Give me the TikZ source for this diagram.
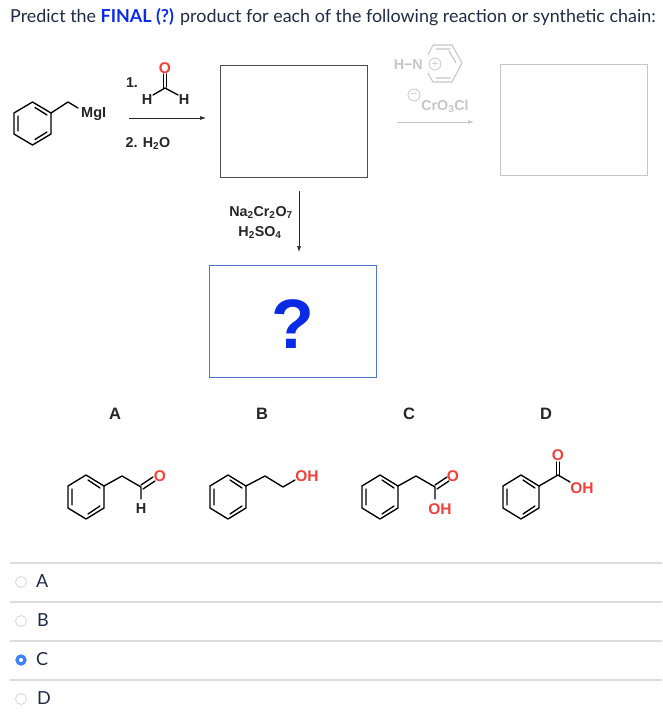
\documentclass[tikz,border=0pt]{standalone}
\usepackage{fontspec}
\setmainfont{Lato}
\newfontfamily\chem{Liberation Sans}
\usetikzlibrary{arrows.meta}
\definecolor{oxy}{HTML}{F2403A}
\definecolor{qblue}{HTML}{0A2BE6}
\definecolor{frameblue}{HTML}{4F74D9}
\definecolor{faint}{HTML}{C6C6C6}
\definecolor{rule}{HTML}{DCDCDC}
\definecolor{ink}{HTML}{1F2A44}
\definecolor{radio}{HTML}{3B82F6}
\tikzset{
  bond/.style={line width=1.35pt,line join=round,line cap=round},
  lab/.style={font=\chem\bfseries\fontsize{14.3}{16}\selectfont,inner sep=0pt,text=black!85,yshift=-1.5pt},
  olab/.style={lab,text=oxy,font=\chem\bfseries\fontsize{15.5}{17}\selectfont},
  hlab/.style={lab,font=\chem\bfseries\fontsize{14.5}{16}\selectfont},
  choice/.style={lab,font=\chem\bfseries\fontsize{16.5}{18}\selectfont},
  rxn/.style={line width=0.7pt,black!85,-{Latex[length=6pt,width=4pt]}},
  rxnf/.style={line width=0.7pt,faint,-{Latex[length=6pt,width=4pt]}},
  boxd/.style={draw=black!70,line width=0.9pt,fill=none},
  charge/.style={circle,draw=faint,line width=0.8pt,minimum size=12pt,inner sep=0pt,text=faint,font=\chem\fontsize{11}{11}\selectfont},
  optline/.style={rule,line width=1.3pt},
  radiooff/.style={circle,draw=rule,line width=1pt,fill=white,minimum size=11pt,inner sep=0pt},
  radioon/.style={circle,draw=radio,line width=3.2pt,fill=white,minimum size=8pt,inner sep=0pt},
  opt/.style={font=\fontsize{18}{20}\selectfont,text=ink,inner sep=0pt},
}
\begin{document}
\begin{tikzpicture}[x=1pt,y=-1pt]
\useasboundingbox (0,0) rectangle (662,720);
\node[anchor=base west,inner sep=0pt,font=\fontsize{17.9}{22}\selectfont,text=ink] (title) at (10,23)
  {Predict the {\bfseries\color{qblue}FINAL (?)} product for each of the following reaction or synthetic chain:};

% Starting material
\draw[bond] (32.5,102) -- (51,113) -- (51,134) -- (32.5,145) -- (14,134) -- (14,113) -- cycle;
\draw[bond] (18,116) -- (18,131) (35,107.5) -- (47,115) (35,139.5) -- (47,132);
\draw[bond] (51,113) -- (68,102) -- (78,108);
\node[hlab,anchor=west] (mgi) at (81,113) {MgI};

% Formaldehyde reagent
\node[lab] (one) at (132,81) {1.};
\node[olab] (fo) at (165,67) {O};
\node[hlab] (fh1) at (147,98.5) {H};
\node[hlab] (fh2) at (184,98.5) {H};
\coordinate (fc) at (165,88);
\draw[bond] (163.5,74) -- (163.5,88) (166.5,74) -- (166.5,87);
\draw[bond] (153,95) -- (165,88) -- (178,95);
\coordinate (a1s) at (129,118); \coordinate (a1e) at (206,118);
\draw[rxn] (a1s) -- (a1e);
\node[lab] (two) at (148,142) {2. H\textsubscript{2}O};

% Boxes
\node[boxd,minimum width=147pt,minimum height=112pt,inner sep=0pt] (box1) at (293.5,121) {};
\node[draw=faint,line width=0.8pt,minimum width=147pt,minimum height=111pt,inner sep=0pt] (box2) at (573.5,119.5) {};
\node[draw=frameblue,line width=0.9pt,minimum width=167pt,minimum height=112pt,inner sep=0pt] (box3) at (292.5,321) {};
\node[text=qblue,inner sep=0pt,font=\chem\bfseries\fontsize{70}{72}\selectfont] (q) at (293,324) {?};

% PCC
\node[lab,text=faint,anchor=east] (hn) at (423,63) {H−N};
\draw[bond,faint,line width=1.1pt] (428,55) -- (433,45) -- (452,45) -- (462,63) -- (452,82) -- (433,82) -- (428,73);
\draw[bond,faint,line width=1.1pt] (436,49) -- (450,49) (456,63) -- (449,51) (436,78) -- (450,78);
\node[charge] (plus) at (435,64) {+};
\node[charge] (minus) at (414,95) {−};
\node[lab,text=faint] (cro) at (445,105) {CrO\textsubscript{3}Cl};
\coordinate (a2s) at (397,122); \coordinate (a2e) at (474,122);
\draw[rxnf] (a2s) -- (a2e);

% Oxidation
\coordinate (a3s) at (299,191); \coordinate (a3e) at (299,252);
\draw[rxn] (a3s) -- (a3e);
\node[lab] (na) at (261,211) {Na\textsubscript{2}Cr\textsubscript{2}O\textsubscript{7}};
\node[lab] (hs) at (260,231) {H\textsubscript{2}SO\textsubscript{4}};

% Choice labels
\node[choice] (la) at (115,412) {A};
\node[choice] (lb) at (262,412) {B};
\node[choice] (lc) at (409,412) {C};
\node[choice] (ld) at (546,412) {D};

% A
\draw[bond] (86,475) -- (104,486) -- (104,508) -- (86,519) -- (68,508) -- (68,486) -- cycle;
\draw[bond] (72,489) -- (72,505) (88,480) -- (100,488) (88,514) -- (100,506);
\draw[bond] (104,486) -- (122,476) -- (141,487) -- (141,499);
\draw[bond] (141,485) -- (153,477) (143,489) -- (155,481);
\node[olab] (ao) at (160,475) {O};
\node[hlab] (ah) at (141,507) {H};

% B
\draw[bond] (228,475) -- (246,486) -- (246,508) -- (228,519) -- (210,508) -- (210,486) -- cycle;
\draw[bond] (214,489) -- (214,505) (230,480) -- (242,488) (230,514) -- (242,506);
\draw[bond] (246,486) -- (265,476) -- (283,487) -- (295,480);
\node[olab] (bo) at (307,475) {OH};

% C
\draw[bond] (380,475) -- (398,486) -- (398,508) -- (380,519) -- (362,508) -- (362,486) -- cycle;
\draw[bond] (366,489) -- (366,505) (382,480) -- (394,488) (382,514) -- (394,506);
\draw[bond] (398,486) -- (416,476) -- (435,487) -- (435,499);
\draw[bond] (435,485) -- (447,477) (437,489) -- (449,481);
\node[olab] (co) at (453,475) {O};
\node[olab] (coh) at (440,507.5) {OH};

% D
\draw[bond] (521,475) -- (539,486) -- (539,508) -- (521,519) -- (503,508) -- (503,486) -- cycle;
\draw[bond] (507,489) -- (507,505) (523,480) -- (535,488) (523,514) -- (535,506);
\draw[bond] (539,486) -- (558,475) -- (570,482);
\draw[bond] (556.5,475) -- (556.5,462) (559.5,475) -- (559.5,462);
\node[olab] (do) at (558,454) {O};
\node[olab] (doh) at (582,486.5) {OH};

% Options
\foreach \yy in {563,602,641,680} \draw[optline] (10,\yy) -- (662,\yy);
\node[radiooff] (ra) at (21,582) {};
\node[radiooff] (rb) at (21,621) {};
\node[radioon] (rc) at (21,660) {};
\node[radiooff] (rd) at (21,699) {};
\node[opt,anchor=base west] (ta) at (36,587.5) {A};
\node[opt,anchor=base west] (tb) at (37,626.5) {B};
\node[opt,anchor=base west] (tc) at (36,665.5) {C};
\node[opt,anchor=base west] (td) at (37,704.5) {D};
\end{tikzpicture}
\end{document}
